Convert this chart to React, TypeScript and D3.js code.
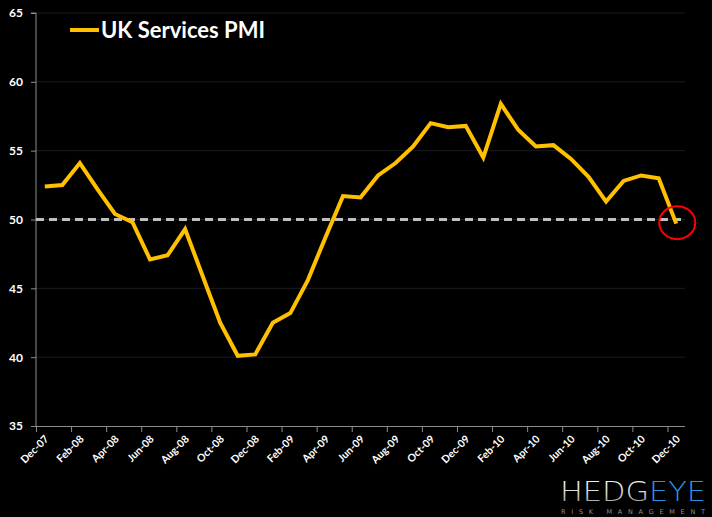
import React, { useEffect, useRef } from 'react';
import * as d3 from 'd3';

// monthly UK services PMI, Dec-07 .. Dec-10
const months = [
  'Dec-07', 'Jan-08', 'Feb-08', 'Mar-08', 'Apr-08', 'May-08', 'Jun-08', 'Jul-08', 'Aug-08', 'Sep-08', 'Oct-08', 'Nov-08',
  'Dec-08', 'Jan-09', 'Feb-09', 'Mar-09', 'Apr-09', 'May-09', 'Jun-09', 'Jul-09', 'Aug-09', 'Sep-09', 'Oct-09', 'Nov-09',
  'Dec-09', 'Jan-10', 'Feb-10', 'Mar-10', 'Apr-10', 'May-10', 'Jun-10', 'Jul-10', 'Aug-10', 'Sep-10', 'Oct-10', 'Nov-10',
  'Dec-10',
];
const pmi = [
  52.4, 52.5, 54.1, 52.2, 50.4, 49.8, 47.1, 47.4, 49.3, 45.9, 42.5, 40.1,
  40.2, 42.5, 43.2, 45.6, 48.7, 51.7, 51.6, 53.2, 54.1, 55.3, 57.0, 56.7,
  56.8, 54.5, 58.4, 56.5, 55.3, 55.4, 54.4, 53.1, 51.3, 52.8, 53.2, 53.0,
  49.7,
];
const yTicks = [35, 40, 45, 50, 55, 60, 65];
const threshold = 50;
const seriesName = 'UK Services PMI';

const W = 712;
const H = 517;

const App: React.FC = () => {
  const svgRef = useRef<SVGSVGElement | null>(null);

  useEffect(() => {
    const svg = d3.select(svgRef.current);
    svg.selectAll('*').remove();

    const left = 36;
    const right = 685;
    const top = 13;
    const bottom = 426;

    svg.append('rect').attr('width', W).attr('height', H).attr('fill', '#000');

    const x = d3.scaleBand<string>().domain(months).range([left, right]).padding(0);
    const y = d3.scaleLinear().domain([35, 65]).range([bottom, top]);
    const cx = (m: string) => (x(m) ?? 0) + x.bandwidth() / 2;

    // faint gridlines
    svg
      .append('g')
      .selectAll('line')
      .data(yTicks.filter((t) => t > 35))
      .enter()
      .append('line')
      .attr('x1', left)
      .attr('x2', right)
      .attr('y1', (d) => y(d))
      .attr('y2', (d) => y(d))
      .attr('stroke', '#1c1c1c')
      .attr('stroke-width', 1);

    // y axis
    const yAxis = svg
      .append('g')
      .attr('transform', `translate(${left},0)`)
      .call(d3.axisLeft(y).tickValues(yTicks).tickSize(5).tickPadding(8));
    yAxis.select('.domain').attr('stroke', '#8c8c8c').attr('d', `M-5,${top}H0V${bottom}`);
    yAxis.selectAll('.tick line').attr('stroke', '#8c8c8c');
    yAxis
      .selectAll('.tick text')
      .attr('fill', '#fff')
      .style('font-family', 'Lato, "Open Sans", sans-serif')
      .style('font-weight', 'bold')
      .style('font-size', '12px');

    // x axis, ticks between every other month
    const xg = svg.append('g');
    xg.append('line')
      .attr('x1', left)
      .attr('x2', right)
      .attr('y1', bottom + 0.5)
      .attr('y2', bottom + 0.5)
      .attr('stroke', '#8c8c8c');
    const tickMonths = months.filter((_, i) => i % 2 === 0);
    xg.selectAll('.xt')
      .data(tickMonths)
      .enter()
      .append('line')
      .attr('class', 'xt')
      .attr('x1', (d) => (x(d) ?? 0) + 0.5)
      .attr('x2', (d) => (x(d) ?? 0) + 0.5)
      .attr('y1', bottom)
      .attr('y2', bottom + 6)
      .attr('stroke', '#8c8c8c');
    xg.selectAll('.xl')
      .data(tickMonths)
      .enter()
      .append('text')
      .attr('class', 'xl')
      .attr('transform', (d) => `translate(${cx(d) + 2},${bottom + 11}) rotate(-45)`)
      .attr('text-anchor', 'end')
      .attr('dy', '0.35em')
      .attr('fill', '#fff')
      .style('font-family', 'Lato, "Open Sans", sans-serif')
      .style('font-weight', 'bold')
      .style('font-size', '10.5px')
      .text((d) => d);

    // 50 line
    svg
      .append('line')
      .attr('x1', left)
      .attr('x2', right)
      .attr('y1', y(threshold))
      .attr('y2', y(threshold))
      .attr('stroke', '#bfbfbf')
      .attr('stroke-width', 3)
      .attr('stroke-dasharray', '8 5');

    const line = d3
      .line<number>()
      .x((_, i) => cx(months[i]))
      .y((d) => y(d));

    svg
      .append('path')
      .datum(pmi)
      .attr('d', line)
      .attr('fill', 'none')
      .attr('stroke', '#ffc000')
      .attr('stroke-width', 4)
      .attr('stroke-linejoin', 'miter');

    // ring the latest reading
    const last = months.length - 1;
    svg
      .append('ellipse')
      .attr('cx', cx(months[last]) + 1)
      .attr('cy', y(pmi[last]) - 1)
      .attr('rx', 18)
      .attr('ry', 16.5)
      .attr('fill', 'none')
      .attr('stroke', '#ff0000')
      .attr('stroke-width', 2);

    // legend
    svg
      .append('line')
      .attr('x1', 70)
      .attr('x2', 99)
      .attr('y1', 30)
      .attr('y2', 30)
      .attr('stroke', '#ffc000')
      .attr('stroke-width', 4);
    svg
      .append('text')
      .attr('x', 101)
      .attr('y', 38)
      .attr('fill', '#fff')
      .style('font-family', 'Lato, "Open Sans", sans-serif')
      .style('font-weight', 'bold')
      .style('font-size', '22px')
      .text(seriesName);

    // logo
    const defs = svg.append('defs');
    const grad = defs
      .append('linearGradient')
      .attr('id', 'silver')
      .attr('x1', 0)
      .attr('y1', 0)
      .attr('x2', 0)
      .attr('y2', 1);
    grad.append('stop').attr('offset', '0%').attr('stop-color', '#ffffff');
    grad.append('stop').attr('offset', '55%').attr('stop-color', '#d8d8d8');
    grad.append('stop').attr('offset', '100%').attr('stop-color', '#8a8a8a');

    const logo = svg
      .append('text')
      .attr('x', 560)
      .attr('y', 501)
      .attr('textLength', 146)
      .attr('lengthAdjust', 'spacingAndGlyphs')
      .style('font-family', '"DejaVu Sans", sans-serif')
      .style('font-weight', '200')
      .style('font-size', '27px');
    logo.append('tspan').attr('fill', 'url(#silver)').text('HEDG');
    logo.append('tspan').attr('fill', '#2e8fe0').text('EYE');

    svg
      .append('text')
      .attr('x', 561)
      .attr('y', 514)
      .attr('textLength', 144)
      .attr('lengthAdjust', 'spacing')
      .attr('fill', '#8f8f8f')
      .style('font-family', '"DejaVu Sans", sans-serif')
      .style('font-size', '6.5px')
      .text('RISK MANAGEMENT');
  }, []);

  return (
    <svg
      ref={svgRef}
      width={W}
      height={H}
      style={{ position: 'absolute', left: 0, top: 0, display: 'block' }}
    />
  );
};

export default App;
